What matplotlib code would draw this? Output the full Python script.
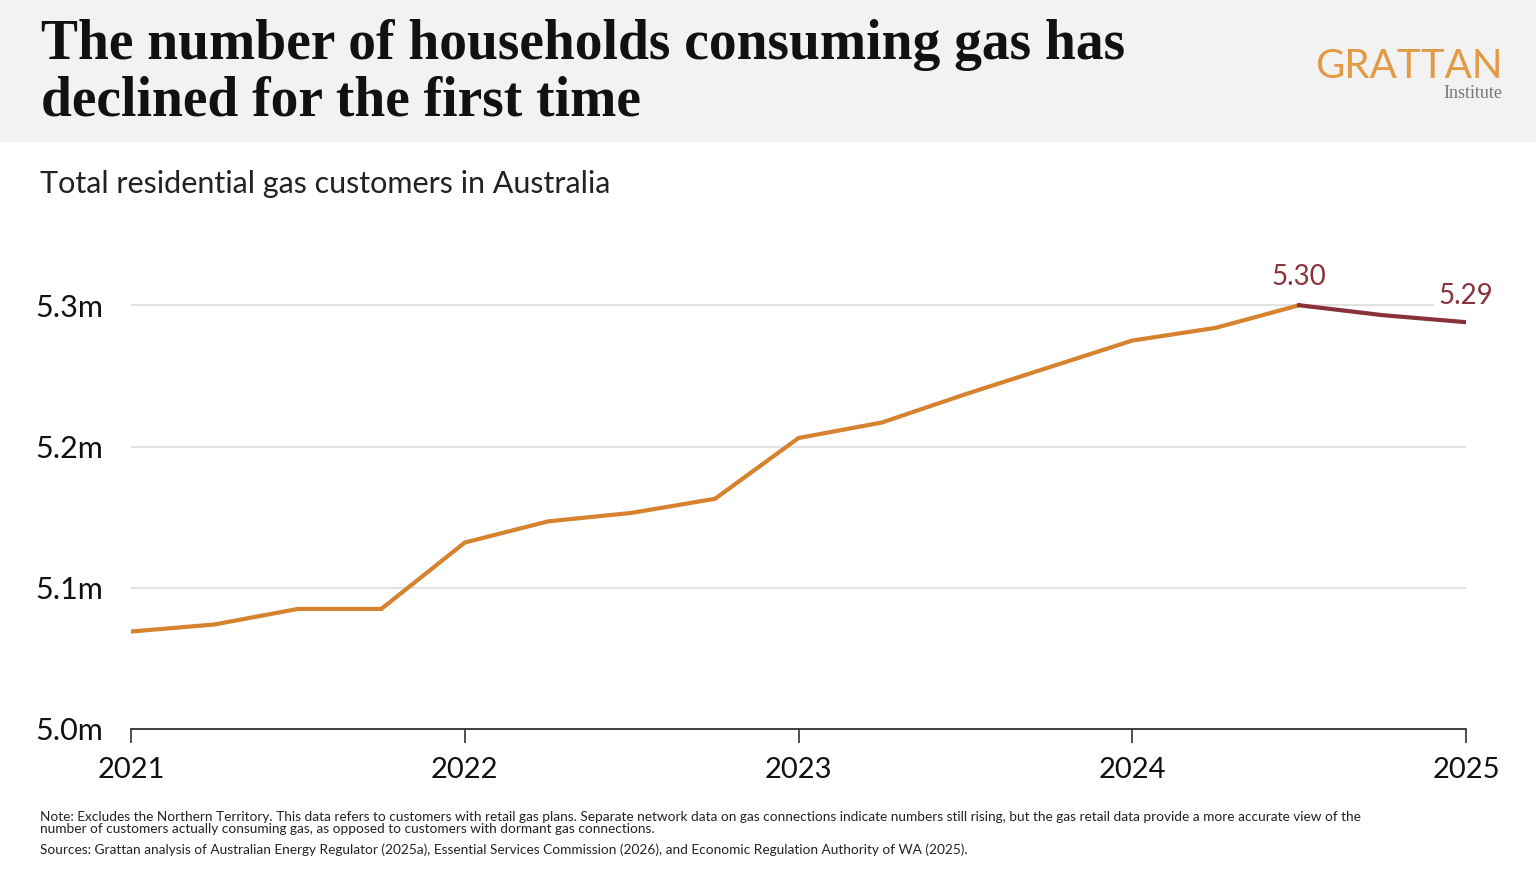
import matplotlib.pyplot as plt
from matplotlib.patches import Rectangle

# quarterly totals, millions of residential gas customers
quarters = [2021.0, 2021.25, 2021.5, 2021.75,
            2022.0, 2022.25, 2022.5, 2022.75,
            2023.0, 2023.25, 2023.5, 2023.75,
            2024.0, 2024.25, 2024.5, 2024.75, 2025.0]
customers = [5.069, 5.074, 5.085, 5.085,
             5.132, 5.147, 5.153, 5.163,
             5.206, 5.217, 5.237, 5.256,
             5.275, 5.284, 5.300, 5.293, 5.288]
peak_idx = 14  # decline starts here

y_ticks = [5.0, 5.1, 5.2, 5.3]
y_labels = ["5.0m", "5.1m", "5.2m", "5.3m"]
x_ticks = [2021, 2022, 2023, 2024, 2025]

ORANGE = "#D6822E"
DARKRED = "#8A323A"
SANS = ["Lato", "DejaVu Sans"]

fig = plt.figure(figsize=(15.36, 8.75), dpi=100)

# header band
fig.patches.append(Rectangle((0, 1 - 142 / 875), 1, 142 / 875, transform=fig.transFigure,
                             facecolor="#F2F2F2", edgecolor="none", zorder=0))
fig.text(41 / 1536, 1 - 73 / 875,
         "The number of households consuming gas has\ndeclined for the first time",
         fontsize=40, fontweight="bold", family=["Liberation Serif", "DejaVu Serif"],
         va="center", ha="left", linespacing=1.12, color="#111111")
fig.text(1503 / 1536, 1 - 67 / 875, "GRATTAN", fontsize=29, color="#E39A45",
         family=SANS, ha="right", va="center")
fig.text(1502 / 1536, 1 - 94 / 875, "Institute", fontsize=13, color="#777777",
         family=["Liberation Serif"], ha="right", va="center")

fig.text(40 / 1536, 1 - 184 / 875, "Total residential gas customers in Australia",
         fontsize=22, family=SANS, ha="left", va="center", color="#222222")

ax = fig.add_axes([131 / 1536, (875 - 729) / 875, (1466 - 131) / 1536, (729 - 277) / 875])
ax.plot(quarters[:peak_idx + 1], customers[:peak_idx + 1], color=ORANGE, lw=3,
        solid_joinstyle="miter", zorder=3)
ax.plot(quarters[peak_idx:], customers[peak_idx:], color=DARKRED, lw=3, zorder=3)

ax.set_xlim(2021, 2025)
ax.set_ylim(5.0, 5.32)
for s in ["top", "right", "left"]:
    ax.spines[s].set_visible(False)
ax.spines["bottom"].set_color("#333333")
ax.spines["bottom"].set_linewidth(1.3)

ax.set_yticks(y_ticks)
ax.set_yticklabels(y_labels, family=SANS, fontsize=22, color="#111111")
ax.tick_params(axis="y", length=0, pad=20)
ax.set_xticks(x_ticks)
ax.set_xticklabels([str(x) for x in x_ticks], family=SANS, fontsize=21, color="#111111")
ax.tick_params(axis="x", direction="out", length=10, width=1.2, color="#333333", pad=10)
ax.grid(axis="y", color="#DDDDDD", lw=1.2)
ax.set_axisbelow(True)

ax.annotate(f"{customers[peak_idx]:.2f}", (quarters[peak_idx], customers[peak_idx]),
            xytext=(0, 20), textcoords="offset points", ha="center", va="center",
            fontsize=20, family=SANS, color=DARKRED)
ax.annotate(f"{customers[-1]:.2f}", (quarters[-1], customers[-1]),
            xytext=(0, 19), textcoords="offset points", ha="center", va="center",
            fontsize=20, family=SANS, color=DARKRED,
            bbox=dict(facecolor="white", edgecolor="none", pad=3))

note = ("Note: Excludes the Northern Territory. This data refers to customers with retail gas plans. "
        "Separate network data on gas connections indicate numbers still rising, but the gas retail data "
        "provide a more accurate view of the\nnumber of customers actually consuming gas, as opposed to "
        "customers with dormant gas connections.")
sources = ("Sources: Grattan analysis of Australian Energy Regulator (2025a), Essential Services "
           "Commission (2026), and Economic Regulation Authority of WA (2025).")
fig.text(40 / 1536, 1 - 811 / 875, note, fontsize=9.8, family=SANS, va="top",
         ha="left", linespacing=1.0, color="#222222")
fig.text(40 / 1536, 1 - 843 / 875, sources, fontsize=9.8, family=SANS, va="top",
         ha="left", color="#222222")

fig.savefig("out.png", dpi=100)
